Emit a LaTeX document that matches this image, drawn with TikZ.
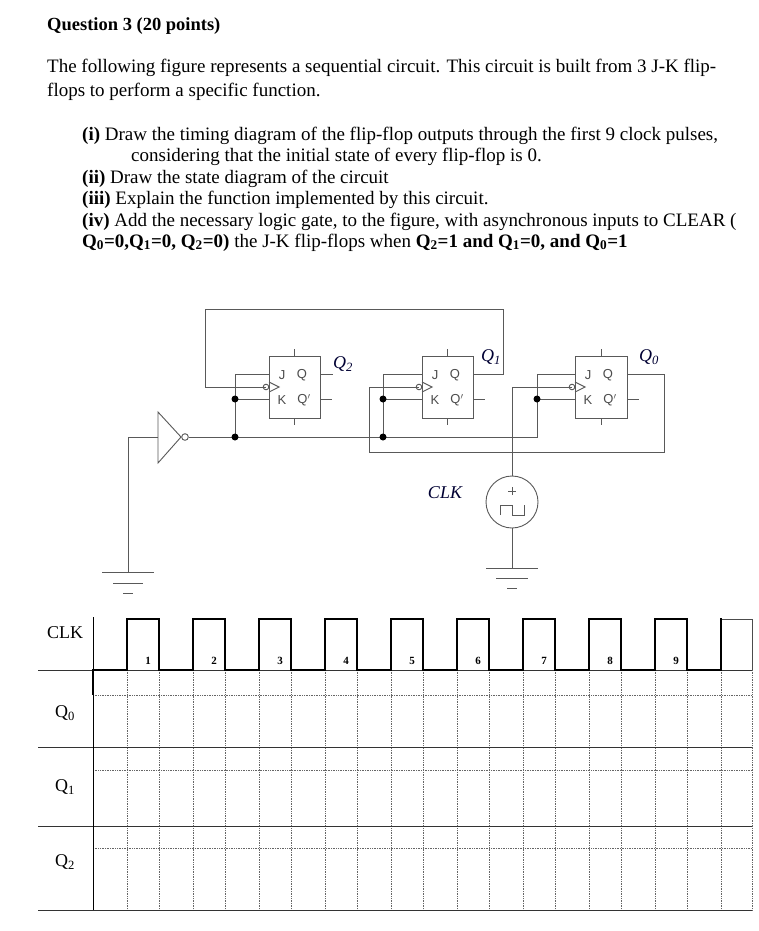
\documentclass[tikz,border=0pt]{standalone}
\usepackage{fontspec}
\setmainfont{Liberation Serif}
\newfontfamily\sfl{Liberation Sans}
\begin{document}
\begin{tikzpicture}[x=1pt,y=-1pt,
  wire/.style={draw=black!65,line width=0.9pt},
  ffbox/.style={draw=black!65,line width=0.9pt,fill=white},
  pin/.style={font=\sfl\fontsize{13}{13}\selectfont,text=black!70,inner sep=0pt},
  txt/.style={anchor=base west,inner sep=0pt,font=\fontsize{19}{22}\selectfont},
  lab/.style={inner sep=0pt,font=\itshape\fontsize{18}{18}\selectfont,text=black!80!blue},
  jdot/.style={fill=black,circle,inner sep=0pt,minimum size=7pt},
  thick1/.style={line width=2.6pt,line cap=rect},
  grid1/.style={draw=black!60,line width=0.7pt,densely dotted},
  tl/.style={inner sep=0pt,font=\fontsize{18}{18}\selectfont}]
\useasboundingbox[fill=white] (0,0) rectangle (759,931);
% text
\node[txt,font=\bfseries\fontsize{18.5}{22}\selectfont] (t0) at (47,31) {Question 3 (20 points)};
\node[txt] (t1) at (47,73) {The following figure represents a sequential circuit. This circuit is built from 3 J-K flip-};
\node[txt] (t2) at (47,97) {flops to perform a specific function.};
\node[txt] (t3) at (82,140) {\textbf{(i)} Draw the timing diagram of the flip-flop outputs through the first 9 clock pulses,};
\node[txt] (t4) at (131,161) {considering that the initial state of every flip-flop is 0.};
\node[txt] (t5) at (82,183) {\textbf{(ii)} Draw the state diagram of the circuit};
\node[txt] (t6) at (82,204) {\textbf{(iii)} Explain the function implemented by this circuit.};
\node[txt] (t7) at (82,226) {\textbf{(iv)} Add the necessary logic gate, to the figure, with asynchronous inputs to CLEAR (};
\node[txt] (t8) at (82,247) {\textbf{Q\textsubscript{0}=0,Q\textsubscript{1}=0, Q\textsubscript{2}=0)} the J-K flip-flops when \textbf{Q\textsubscript{2}=1 and Q\textsubscript{1}=0, and Q\textsubscript{0}=1}};
% flip-flops
\foreach \n/\xa/\xb in {f2/269/320, f1/422/473, f0/575/627}{
  \draw[wire] ({(\xa+\xb)/2},349) -- ({(\xa+\xb)/2},425);
  \draw[ffbox] (\xa,356) rectangle (\xb,418);
  \node[pin] (\n J) at (\xa+13,375) {J};
  \node[pin] (\n Q) at (\xa+33,375) {Q};
  \node[pin] (\n K) at (\xa+13,400) {K};
  \node[pin] (\n Qn) at (\xa+35,400) {Q$'$};
  \draw[wire] (\xa,382) -- (\xa+10,387) -- (\xa,392);
  \draw[wire,fill=white] (\xa-3,387) circle (2.8);
  \draw[wire] (\xb,399) -- (\xb+12,399);
}
\node[lab] (q2) at (343,364) {Q\textsubscript{2}};
\node[lab] (q1) at (491,357) {Q\textsubscript{1}};
\node[lab] (q0) at (649,357) {Q\textsubscript{0}};
% Q outputs
\draw[wire] (320,374) -- (333,374);
\draw[wire] (473,374) -- (503,374) -- (503,309) -- (205,309) -- (205,387) -- (266,387);
\draw[wire] (627,374) -- (664,374) -- (664,452) -- (369,452) -- (369,387) -- (419,387);
% J/K inputs
\draw[wire] (269,374) -- (235,374) -- (235,437);
\draw[wire] (269,399) -- (235,399);
\draw[wire] (422,374) -- (383,374) -- (383,437);
\draw[wire] (422,399) -- (383,399);
\draw[wire] (575,374) -- (537,374) -- (537,437) -- (189,437);
\draw[wire] (575,399) -- (537,399);
\foreach \p in {(235,399),(235,437),(383,399),(383,437),(537,399)} \node[jdot] at \p {};
% inverter
\draw[wire] (158,412) -- (181,437) -- (158,463) -- cycle;
\draw[wire,fill=white] (185,437) circle (3.3);
\draw[wire] (158,437) -- (128,437) -- (128,572);
\draw[wire] (102,572) -- (154,572) (113,583) -- (143,583) (123,593) -- (133,593);
% clock source
\draw[wire] (572,387) -- (512,387) -- (512,476);
\draw[wire] (512,502) circle (26);
\draw[wire] (512,528) -- (512,568);
\draw[wire] (486,568) -- (538,568) (496,578) -- (528,578) (507,588) -- (517,588);
\draw[black!65,line width=0.7pt] (508,491) -- (516,491) (512,487) -- (512,495);
\draw[black!65,line width=0.8pt] (500,515) -- (500,505) -- (512,505) -- (512,515) -- (524,515) -- (524,505);
\node[lab] (clk) at (445,493) {CLK};
% timing diagram
\foreach \i in {0,...,8}{
  \draw[grid1] (127+66*\i,670) -- (127+66*\i,910);
  \draw[grid1] (159+66*\i,670) -- (159+66*\i,910);
  \node[inner sep=0pt,font=\bfseries\fontsize{11}{11}\selectfont] at (148+66*\i,661) {\the\numexpr\i+1\relax};
}
\draw[grid1] (721,670) -- (721,910);
\draw[grid1] (752,670) -- (752,910);
\foreach \y in {695,770,848} \draw[grid1] (93,\y) -- (752,\y);
\foreach \y in {670,747,826,910} \draw[black!80,line width=0.9pt] (38,\y) -- (752,\y);
\draw[black,line width=1pt] (93,617) -- (93,910);
\draw[black!70,line width=0.7pt] (721,619) -- (752,619) -- (752,670);
\draw[thick1] (93,694) -- (93,670)
  \foreach \i in {0,...,8}{ -- (127+66*\i,670) -- (127+66*\i,619) -- (159+66*\i,619) -- (159+66*\i,670)} -- (721,670) -- (721,619);
\node[tl] (lclk) at (65,633) {CLK};
\node[tl] (l0) at (65,713) {Q\textsubscript{0}};
\node[tl] (l1) at (65,787) {Q\textsubscript{1}};
\node[tl] (l2) at (65,862) {Q\textsubscript{2}};
\end{tikzpicture}
\end{document}
